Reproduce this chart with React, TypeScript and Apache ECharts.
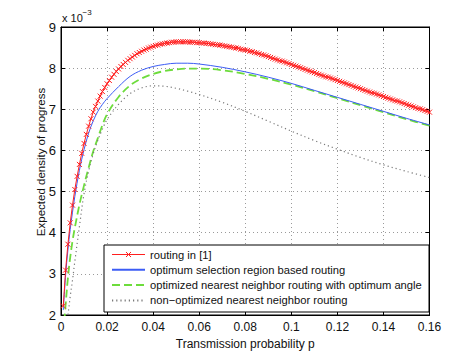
import React, { useEffect, useRef } from "react";
import * as echarts from "echarts";

// Sampling grid of the "routing in [1]" curve (p = 0.001 … 0.160, one marker each)
const pRed: number[] = Array.from({ length: 160 }, (_, i) => (i + 1) / 1000);

// Expected density of progress (x 10^-3)
const redValues = [
  2.22, 3.09, 3.72, 4.24, 4.67, 5.05, 5.37, 5.66, 5.93, 6.17,
  6.39, 6.59, 6.77, 6.93, 7.07, 7.2, 7.32, 7.43, 7.53, 7.62,
  7.7, 7.78, 7.85, 7.92, 7.98, 8.04, 8.09, 8.14, 8.19, 8.23,
  8.27, 8.31, 8.35, 8.38, 8.41, 8.44, 8.46, 8.49, 8.51, 8.53,
  8.55, 8.56, 8.58, 8.59, 8.6, 8.61, 8.62, 8.63, 8.63, 8.64,
  8.64, 8.64, 8.64, 8.64, 8.64, 8.63, 8.63, 8.63, 8.62, 8.62,
  8.61, 8.61, 8.6, 8.6, 8.59, 8.58, 8.57, 8.57, 8.56, 8.55,
  8.54, 8.53, 8.52, 8.51, 8.5, 8.49, 8.48, 8.46, 8.45, 8.44,
  8.43, 8.41, 8.4, 8.38, 8.37, 8.35, 8.33, 8.32, 8.3, 8.28,
  8.26, 8.24, 8.22, 8.2, 8.18, 8.17, 8.15, 8.13, 8.11, 8.09,
  8.07, 8.05, 8.03, 8.01, 7.99, 7.97, 7.95, 7.93, 7.91, 7.89,
  7.87, 7.85, 7.83, 7.81, 7.79, 7.78, 7.76, 7.74, 7.72, 7.7,
  7.68, 7.66, 7.64, 7.62, 7.6, 7.58, 7.56, 7.54, 7.52, 7.5,
  7.48, 7.46, 7.44, 7.42, 7.4, 7.39, 7.37, 7.35, 7.33, 7.31,
  7.29, 7.27, 7.25, 7.23, 7.21, 7.2, 7.18, 7.16, 7.14, 7.12,
  7.1, 7.08, 7.06, 7.04, 7.02, 7.01, 6.99, 6.97, 6.95, 6.93,
];

const pGrid = [
  0.001, 0.002, 0.003, 0.004, 0.005, 0.006, 0.008, 0.01, 0.012, 0.014, 0.016,
  0.018, 0.02, 0.025, 0.03, 0.035, 0.04, 0.045, 0.05, 0.055, 0.06, 0.07, 0.08,
  0.09, 0.1, 0.11, 0.12, 0.13, 0.14, 0.15, 0.16,
];

const blueValues = [
  2.12, 2.97, 3.58, 4.08, 4.5, 4.88, 5.52, 6.02, 6.42, 6.72, 6.95,
  7.12, 7.26, 7.55, 7.8, 7.95, 8.04, 8.09, 8.12, 8.12, 8.1, 8.02, 7.91,
  7.78, 7.63, 7.46, 7.29, 7.12, 6.95, 6.78, 6.62,
];

const greenValues = [
  1.55, 2.25, 2.9, 3.4, 3.8, 4.12, 4.68, 5.15, 5.58, 5.98, 6.3,
  6.62, 6.88, 7.3, 7.58, 7.75, 7.86, 7.93, 7.97, 7.99, 7.99, 7.95, 7.86,
  7.74, 7.6, 7.44, 7.27, 7.1, 6.93, 6.76, 6.6,
];

const grayValues = [
  1.3, 1.7, 2.0, 2.45, 2.85, 3.3, 4.15, 4.95, 5.5, 5.92, 6.25,
  6.52, 6.75, 7.12, 7.38, 7.52, 7.57, 7.56, 7.51, 7.44, 7.36, 7.17, 6.95,
  6.71, 6.47, 6.24, 6.03, 5.83, 5.65, 5.49, 5.34,
];

const seriesNames = [
  "routing in [1]",
  "optimum selection region based routing",
  "optimized nearest neighbor routing with optimum angle",
  "non\u2212optimized nearest neighbor routing",
];

const FONT = "'Liberation Sans', Arial, Helvetica, sans-serif";

export default function App() {
  const ref = useRef<HTMLDivElement>(null);

  useEffect(() => {
    const chart = echarts.init(ref.current!, null, { renderer: "svg" });
    const fmtX = (v: number) => String(parseFloat(v.toFixed(3)));
    const labelStyle = { color: "#111", fontSize: 12, fontFamily: FONT };
    const pair = (xs: number[], ys: number[]) => ys.map((y, i) => [xs[i], y]);

    chart.setOption({
      animation: false,
      backgroundColor: "#ffffff",
      textStyle: { fontFamily: FONT },
      grid: {
        left: 61,
        right: 44.5,
        top: 27,
        bottom: 40,
        show: true,
        borderColor: "#000",
        borderWidth: 1,
        backgroundColor: "transparent",
      },
      xAxis: [
        {
          type: "value",
          min: 0,
          max: 0.16,
          interval: 0.02,
          position: "bottom",
          axisLine: { show: true, onZero: false, lineStyle: { color: "#000", width: 1 } },
          axisTick: { show: true, inside: true, length: 4, lineStyle: { color: "#000" } },
          axisLabel: { ...labelStyle, margin: 6, formatter: fmtX },
          splitLine: { show: true, lineStyle: { type: [1, 3], color: "#9a9a9a", width: 1 } },
          name: "Transmission probability p",
          nameLocation: "middle",
          nameGap: 12,
          nameTextStyle: { color: "#111", fontSize: 12, fontFamily: FONT, verticalAlign: "top" },
        },
        {
          type: "value",
          min: 0,
          max: 0.16,
          interval: 0.02,
          position: "top",
          axisLine: { show: true, onZero: false, lineStyle: { color: "#000", width: 1 } },
          axisTick: { show: true, inside: true, length: 4, lineStyle: { color: "#000" } },
          axisLabel: { show: false },
          splitLine: { show: false },
        },
      ],
      yAxis: [
        {
          type: "value",
          min: 2,
          max: 9,
          interval: 1,
          position: "left",
          axisLine: { show: true, onZero: false, lineStyle: { color: "#000", width: 1 } },
          axisTick: { show: true, inside: true, length: 4, lineStyle: { color: "#000" } },
          axisLabel: { ...labelStyle, fontSize: 13, margin: 5 },
          splitLine: { show: true, lineStyle: { type: [1, 3], color: "#9a9a9a", width: 1 } },
        },
        {
          type: "value",
          min: 2,
          max: 9,
          interval: 1,
          position: "right",
          axisLine: { show: true, onZero: false, lineStyle: { color: "#000", width: 1 } },
          axisTick: { show: true, inside: true, length: 4, lineStyle: { color: "#000" } },
          axisLabel: { show: false },
          splitLine: { show: false },
        },
      ],
      legend: {
        orient: "vertical",
        left: 104,
        top: 245,
        padding: [4, 7, 4, 7],
        itemWidth: 33,
        itemHeight: 9,
        itemGap: 4.3,
        z: 20,
        data: [
          {
            name: seriesNames[0],
            icon: "path://M0,0L0,0M0,9L0,9M0,4.5L33,4.5M14,2L19,7M19,2L14,7",
            itemStyle: { color: "#ff1f1f", borderColor: "#ff1f1f", borderWidth: 1 },
          },
          { name: seriesNames[1], itemStyle: { opacity: 0 } },
          { name: seriesNames[2], itemStyle: { opacity: 0 } },
          { name: seriesNames[3], itemStyle: { opacity: 0 } },
        ],
        textStyle: { color: "#111", fontSize: 11.2, fontFamily: FONT, lineHeight: 9, padding: [0, 0, 0, 0] },
      },
      graphic: [
        {
          type: "rect",
          z: 10,
          shape: { x: 104, y: 245, width: 325, height: 67 },
          style: { fill: "#ffffff", stroke: "#000000", lineWidth: 1 },
        },
        {
          type: "text",
          z: 10,
          x: 62,
          y: 12,
          style: { text: "x 10", fontSize: 11, fill: "#111", fontFamily: FONT },
        },
        {
          type: "text",
          z: 10,
          x: 82.5,
          y: 8,
          style: { text: "\u22123", fontSize: 8, fill: "#111", fontFamily: FONT },
        },
        {
          type: "text",
          z: 10,
          x: 40.5,
          y: 162,
          rotation: Math.PI / 2,
          style: {
            text: "Expected density of progress",
            fontSize: 11.5,
            fill: "#111",
            fontFamily: FONT,
            align: "center",
            verticalAlign: "middle",
          },
        },
      ],
      series: [
        {
          name: seriesNames[0],
          type: "line",
          data: pair(pRed, redValues),
          symbol: "path://M0,0L10,10M10,0L0,10",
          symbolSize: 5,
          showAllSymbol: true,
          lineStyle: { color: "#ff1f1f", width: 1 },
          itemStyle: { color: "#ff1f1f", borderColor: "#ff1f1f", borderWidth: 1 },
          z: 5,
        },
        {
          name: seriesNames[1],
          type: "line",
          data: pair(pGrid, blueValues),
          symbol: "none",
          smooth: 0.35,
          lineStyle: { color: "#3c5cf5", width: 1 },
          itemStyle: { color: "#3c5cf5" },
          z: 4,
        },
        {
          name: seriesNames[2],
          type: "line",
          data: pair(pGrid, greenValues),
          symbol: "none",
          smooth: 0.35,
          lineStyle: { color: "#6ddc3c", width: 1.8, type: [8, 4] },
          itemStyle: { color: "#6ddc3c" },
          z: 3,
        },
        {
          name: seriesNames[3],
          type: "line",
          data: pair(pGrid, grayValues),
          symbol: "none",
          smooth: 0.35,
          lineStyle: { color: "#7a7a7a", width: 1.2, type: [1.2, 3] },
          itemStyle: { color: "#7a7a7a" },
          z: 3,
        },
      ],
    });

    return () => chart.dispose();
  }, []);

  return (
    <div
      ref={ref}
      style={{ position: "absolute", left: 0, top: 0, width: 474, height: 355 }}
    />
  );
}
